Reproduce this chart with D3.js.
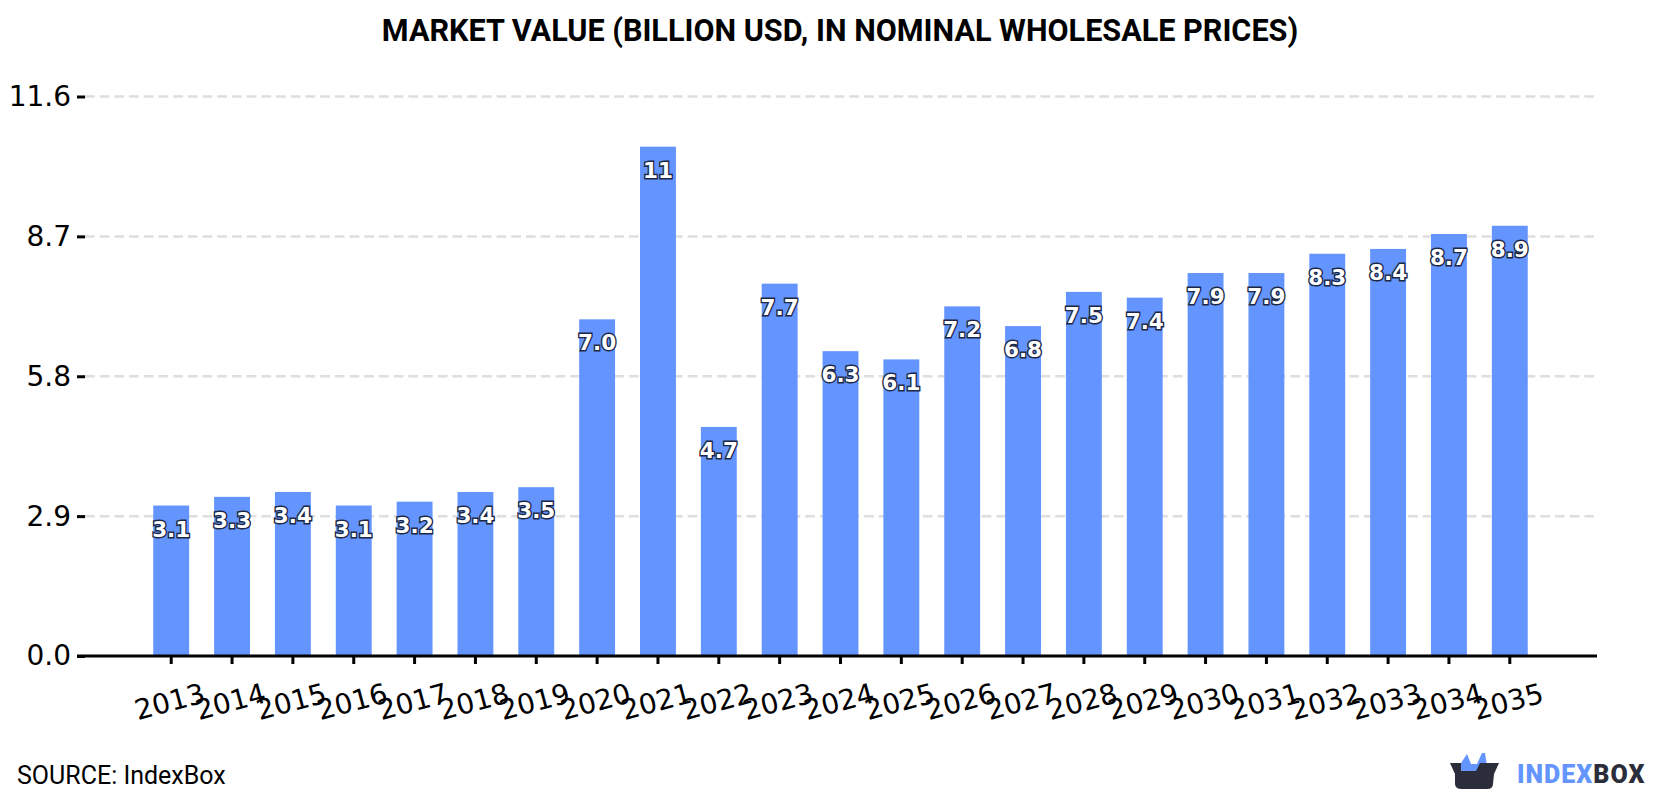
<!DOCTYPE html>
<html>
<head>
<meta charset="utf-8">
<script src="https://cdn.jsdelivr.net/npm/d3@7/dist/d3.min.js"></script>
<style>
  html, body { margin: 0; padding: 0; background: #fff; }
  svg { display: block; }
</style>
</head>
<body>
<svg id="chart" width="1680" height="800"></svg>
<script>
const years = [2013,2014,2015,2016,2017,2018,2019,2020,2021,2022,2023,2024,2025,2026,2027,2028,2029,2030,2031,2032,2033,2034,2035];
const marketValue = [3.12,3.30,3.40,3.12,3.20,3.40,3.50,6.98,10.56,4.749,7.72,6.32,6.149,7.249,6.84,7.549,7.43,7.94,7.94,8.34,8.44,8.749,8.92];
const yTicks = [0, 2.9, 5.8, 8.7, 11.6];
const titleText = "MARKET VALUE (BILLION USD, IN NOMINAL WHOLESALE PRICES)";
const sourceText = "SOURCE: IndexBox";

const svg = d3.select("#chart");
const plot = { left: 85, right: 1597, top: 96.5, bottom: 656 };
const barColor = "#6495ff";

const x = d3.scaleBand()
  .domain(years)
  .range([plot.left - 0.5, plot.right - 0.5])
  .paddingInner(0.41)
  .paddingOuter(1.13);

const y = d3.scaleLinear()
  .domain([0, 11.6])
  .range([plot.bottom, plot.top]);

// Title
svg.append("text")
  .attr("x", 840).attr("y", 41)
  .attr("text-anchor", "middle")
  .attr("font-family", "Roboto")
  .attr("font-weight", 700)
  .attr("font-size", 30.6)
  .attr("fill", "#000")
  .text(titleText);

// Value axis with dashed gridlines
const yAxis = svg.append("g")
  .attr("transform", `translate(${plot.left},0)`)
  .call(d3.axisLeft(y).tickValues(yTicks).tickFormat(d3.format(".1f")).tickSize(8).tickPadding(6));
yAxis.select(".domain").remove();
yAxis.selectAll(".tick line").attr("stroke", "#000").attr("stroke-width", 3);
yAxis.selectAll(".tick text")
  .attr("font-family", "DejaVu Sans")
  .attr("font-size", 28)
  .attr("fill", "#000");

svg.append("g").selectAll("line")
  .data(yTicks.filter(d => d > 0))
  .join("line")
  .attr("x1", plot.left).attr("x2", plot.right - 1)
  .attr("y1", d => y(d)).attr("y2", d => y(d))
  .attr("stroke", "#dedede")
  .attr("stroke-width", 2.5)
  .attr("stroke-dasharray", "9.7,5");

// Bars
svg.append("g").selectAll("rect")
  .data(years)
  .join("rect")
  .attr("x", d => x(d))
  .attr("width", x.bandwidth())
  .attr("y", (d, i) => y(marketValue[i]))
  .attr("height", (d, i) => plot.bottom - y(marketValue[i]))
  .attr("fill", barColor);

// Category axis with tilted year labels
const xAxis = svg.append("g")
  .attr("transform", `translate(0,${plot.bottom})`)
  .call(d3.axisBottom(x).tickSize(8).tickSizeOuter(0));
xAxis.select(".domain").remove();
xAxis.selectAll(".tick line").attr("stroke", "#000").attr("stroke-width", 3);
xAxis.selectAll(".tick text")
  .attr("font-family", "DejaVu Sans")
  .attr("font-size", 28)
  .attr("fill", "#000")
  .attr("text-anchor", "middle")
  .attr("y", 0).attr("dy", 0)
  .attr("transform", "translate(1,55) rotate(-15)");

svg.append("line")
  .attr("x1", 77).attr("x2", plot.right)
  .attr("y1", plot.bottom).attr("y2", plot.bottom)
  .attr("stroke", "#000").attr("stroke-width", 3);

// Value labels inside the bars: white glyphs with a dark outline
svg.append("g").selectAll("text")
  .data(years)
  .join("text")
  .attr("x", d => x(d) + x.bandwidth() / 2)
  .attr("y", (d, i) => y(marketValue[i]) + 31)
  .attr("text-anchor", "middle")
  .attr("font-family", "DejaVu Sans")
  .attr("font-weight", 700)
  .attr("font-size", 21.5)
  .attr("fill", "#fff")
  .attr("stroke", "#1d2743")
  .attr("stroke-width", 2.8)
  .attr("paint-order", "stroke")
  .text((d, i) => marketValue[i] >= 10 ? String(Math.round(marketValue[i])) : marketValue[i].toFixed(1));

// Source line
svg.append("text")
  .attr("x", 17).attr("y", 784)
  .attr("font-family", "Roboto")
  .attr("font-size", 25)
  .attr("fill", "#000")
  .text(sourceText);

// Brand mark: box with a blue fold, followed by the wordmark
const logo = svg.append("g").attr("transform", "translate(1420,700)");
logo.append("path")
  .attr("d", "M41,63 L47,54 L51,64 L57,64 L62,53 L65,53 L67,66 L66,72 L41,72 Z")
  .attr("fill", barColor);
logo.append("path")
  .attr("d", "M30,63 L41,63 L41,71 L56,71 L60,63 L79,63 L74,74 L73,84 Q73,89 67,89 L42,89 Q35,89 35,84 L35,74 Z")
  .attr("fill", "#2b2d3a");
const word = logo.append("text")
  .attr("x", 97).attr("y", 83)
  .attr("font-family", "Roboto")
  .attr("font-weight", 900)
  .attr("font-size", 25)
  .attr("letter-spacing", 1);
word.append("tspan").attr("fill", barColor).text("INDEX");
word.append("tspan").attr("fill", "#2b2d3a").text("BOX");
</script>
</body>
</html>
